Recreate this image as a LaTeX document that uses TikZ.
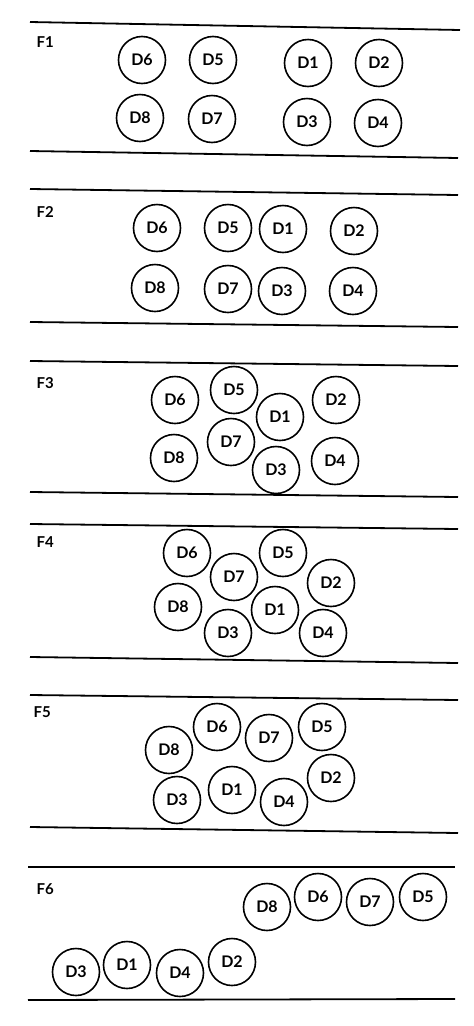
\documentclass[tikz,border=0pt]{standalone}
\usepackage{fontspec}
\setmainfont{Lato}
\usepackage{tikz}
\tikzset{disk/.style={draw,circle,line width=1.6pt,minimum size=47pt,inner sep=0pt,font=\fontsize{16}{16}\selectfont\bfseries},
	wall/.style={line width=1.8pt},
	tag/.style={anchor=west,font=\fontsize{15}{15}\selectfont\bfseries}}

\begin{document}
\begin{tikzpicture}[x=1pt,y=-1pt]
	\useasboundingbox (0,0) rectangle (474,1026);
	% F1: two separate blocks
	\draw[wall] (30,22) -- (460,30);
	\draw[wall] (30,151) -- (458,158);
	\node[tag] (f1) at (33,42) {F1};
	\foreach \n/\x/\y in {D6/142/60,D5/213/60,D1/308/63,D2/379/63,D8/140/118,D7/212/119,D3/307/122,D4/378/123}{%
		\node[disk] (f1\n) at (\x,\y) {\n};
	}
	% F2: blocks closing in
	\draw[wall] (30,189) -- (458,195);
	\draw[wall] (30,322) -- (458,327);
	\node[tag] (f2) at (33,212) {F2};
	\foreach \n/\x/\y in {D6/157/228,D5/228/228,D1/283/229,D2/354/231,D8/155/288,D7/228/289,D3/282/291,D4/353/291}{%
		\node[disk] (f2\n) at (\x,\y) {\n};
	}
	% F3
	\draw[wall] (30,361) -- (458,366);
	\draw[wall] (30,492) -- (458,497);
	\node[tag] (f3) at (33,383) {F3};
	\foreach \n/\x/\y in {D6/175/400,D5/234/390,D1/280/417,D2/336/400,D8/174/458,D7/231/442,D3/276/470,D4/335/461}{%
		\node[disk] (f3\n) at (\x,\y) {\n};
	}
	% F4
	\draw[wall] (30,524) -- (458,529);
	\draw[wall] (30,657) -- (458,663);
	\node[tag] (f4) at (33,542) {F4};
	\foreach \n/\x/\y in {D6/187/553,D5/283/553,D7/234/577,D2/331/583,D8/178/607,D1/275/610,D3/228/633,D4/323/633}{%
		\node[disk] (f4\n) at (\x,\y) {\n};
	}
	% F5
	\draw[wall] (30,695) -- (458,700);
	\draw[wall] (30,827) -- (458,833);
	\node[tag] (f5) at (30,712) {F5};
	\foreach \n/\x/\y in {D6/217/727,D7/269/738,D5/322/727,D8/169/750,D2/331/778,D3/177/800,D1/232/790,D4/284/802}{%
		\node[disk] (f5\n) at (\x,\y) {\n};
	}
	% F6: spread out in a chain
	\draw[wall] (28,867) -- (455,867);
	\draw[wall] (28,1000) -- (455,999);
	\node[tag] (f6) at (33,889) {F6};
	\foreach \n/\x/\y in {D8/267/907,D6/318/897,D7/370/902,D5/423/897,D3/76/972,D1/127/965,D4/180/973,D2/232/962}{%
		\node[disk] (f6\n) at (\x,\y) {\n};
	}
\end{tikzpicture}
\end{document}
